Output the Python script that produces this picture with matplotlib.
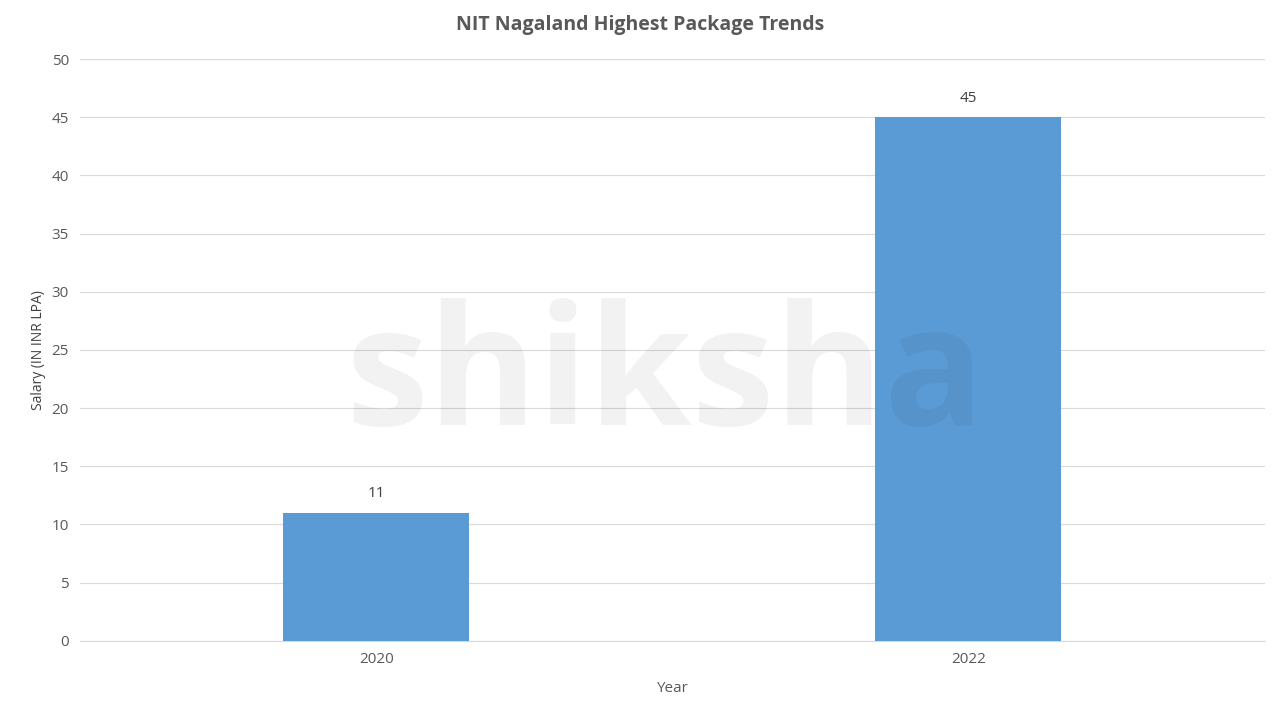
import matplotlib
matplotlib.use("Agg")
import matplotlib.pyplot as plt

years = ["2020", "2022"]
salaries = [11, 45]

plt.rcParams['font.family'] = ['Open Sans', 'DejaVu Sans']
fig = plt.figure(figsize=(12.8, 7.2), dpi=100)
ax = fig.add_axes([0.0625, 0.110, 0.9255, 0.808])
x = range(len(years))
ax.bar(x, salaries, width=0.314, color="#5B9BD5", zorder=3)
for i, v in zip(x, salaries):
    ax.text(i, v + 1, str(v), ha="center", va="bottom", fontsize=11, color="#404040")
ax.set_xlim(-0.5, 1.5)
ax.set_ylim(0, 50)
ax.set_yticks(range(0, 51, 5))
ax.set_xticks(list(x))
ax.set_xticklabels(years)
ax.tick_params(length=0, labelsize=11, labelcolor="#595959", pad=8)
ax.grid(axis="y", color="#D9D9D9", linewidth=0.8, zorder=0)
for s in ["top", "right", "left"]:
    ax.spines[s].set_visible(False)
ax.spines["bottom"].set_color("#D9D9D9")
ax.set_xlabel("Year", fontsize=11, color="#595959", labelpad=10)
ax.set_ylabel("Salary (IN INR LPA)", fontsize=10, color="#404040")
fig.text(0.5, 0.965, "NIT Nagaland Highest Package Trends", ha="center", va="center",
         fontsize=14, fontweight="bold", color="#595959")
fig.text(0.52, 0.47, "shiksha", ha="center", va="center", fontsize=120,
         fontweight="bold", color="#000000", alpha=0.05, zorder=10)
fig.savefig("out.png")
